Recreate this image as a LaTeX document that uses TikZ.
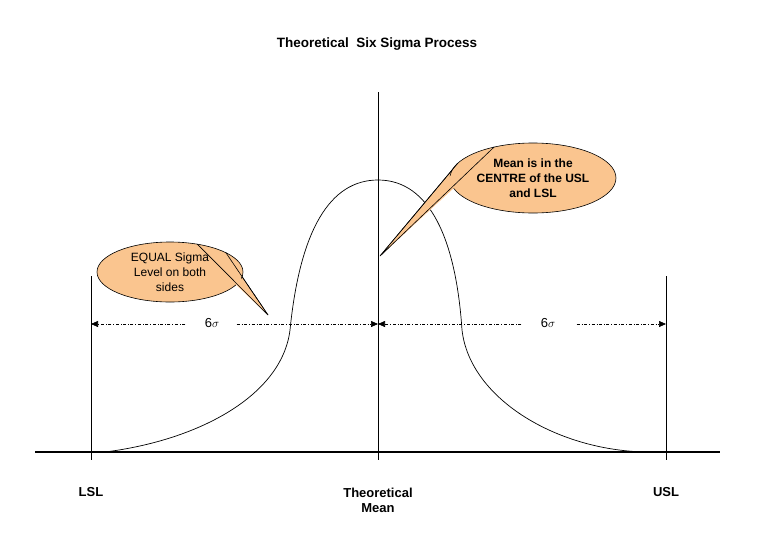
\documentclass[tikz,border=0pt]{standalone}
\usepackage{fontspec}
\setmainfont{Liberation Sans}
\usetikzlibrary{arrows.meta,calc}
\definecolor{peach}{HTML}{FAC58F}
\tikzset{
  lbl/.style={font=\fontsize{13}{15}\selectfont\bfseries, align=center},
  vline/.style={line width=0.8pt},
  dim/.style={dash dot, line width=0.6pt, -{Triangle[length=7pt,width=6pt]}},
  bub/.style={fill=peach, draw=black, line width=0.6pt},
  btext/.style={align=center, font=\fontsize{12}{15}\selectfont}
}
\begin{document}
\begin{tikzpicture}[x=1pt,y=-1pt]
\useasboundingbox (0,0) rectangle (782,536);
\node[font=\fontsize{13.5}{16}\selectfont\bfseries] (title) at (377,44) {Theoretical\ \ Six Sigma Process};
% axis
\coordinate (ax0) at (35,452); \coordinate (ax1) at (720,452);
\draw[line width=2pt] (ax0) -- (ax1);
% verticals
\coordinate (lslt) at (91,276); \coordinate (lslb) at (91,460);
\coordinate (uslt) at (666,276); \coordinate (uslb) at (666,460);
\coordinate (mt) at (378,92); \coordinate (mb) at (378,460);
\draw[vline] (lslt) -- (lslb);
\draw[vline] (uslt) -- (uslb);
\draw[vline] (mt) -- (mb);
\node[lbl] (lsl) at (91,492) {LSL};
\node[lbl] (usl) at (666,492) {USL};
\node[lbl] (mean) at (378,500) {Theoretical\\Mean};
% curve
\draw[line width=0.7pt] (105,452) .. controls (200,440) and (282,395) .. (290,330)
  .. controls (300,230) and (330,180) .. (378,180)
  .. controls (430,180) and (456,240) .. (462,330)
  .. controls (470,400) and (560,452) .. (650,452);
% dimension lines
\coordinate (dl) at (91,324); \coordinate (dm) at (378,324); \coordinate (dr) at (666,324);
\node[font=\fontsize{13}{15}\selectfont] (s1) at (212,323) {6$\sigma$};
\node[font=\fontsize{13}{15}\selectfont] (s2) at (548,323) {6$\sigma$};
\draw[dim] ($(s1.west)+(-16,1)$) -- (dl);
\draw[dim] ($(s1.east)+(14,1)$) -- (dm);
\draw[dim] ($(s2.west)+(-16,1)$) -- (dm);
\draw[dim] ($(s2.east)+(18,1)$) -- (dr);
% left bubble
\coordinate (lc) at (170,272);
\coordinate (ltip) at (268,315);
\draw[bub] ($(lc)+(-40:73 and 30)$) -- (ltip) -- ($(lc)+(-68:73 and 30)$);
\draw[bub] (lc) ellipse [x radius=73, y radius=30];
\fill[peach] ($(lc)+(-40:70 and 27)$) -- (ltip) -- ($(lc)+(-68:70 and 27)$) -- cycle;
\draw[line width=0.6pt] ($(lc)+(-40:73 and 30)$) -- (ltip) -- ($(lc)+(-68:73 and 30)$);
\node[btext] (lt) at (lc) {EQUAL Sigma\\Level on both\\sides};
% right bubble
\coordinate (rc) at (533,178);
\coordinate (rtip) at (380,256);
\draw[bub] ($(rc)+(-155:83 and 35)$) -- (rtip) -- ($(rc)+(-118:83 and 35)$);
\draw[bub] (rc) ellipse [x radius=83, y radius=35];
\fill[peach] ($(rc)+(-155:80 and 32)$) -- (rtip) -- ($(rc)+(-118:80 and 32)$) -- cycle;
\draw[line width=0.6pt] ($(rc)+(-155:83 and 35)$) -- (rtip) -- ($(rc)+(-118:83 and 35)$);
\node[btext, font=\fontsize{12}{15}\selectfont\bfseries] (rt) at (rc) {Mean is in the\\CENTRE of the USL\\and LSL};
\end{tikzpicture}
\end{document}
